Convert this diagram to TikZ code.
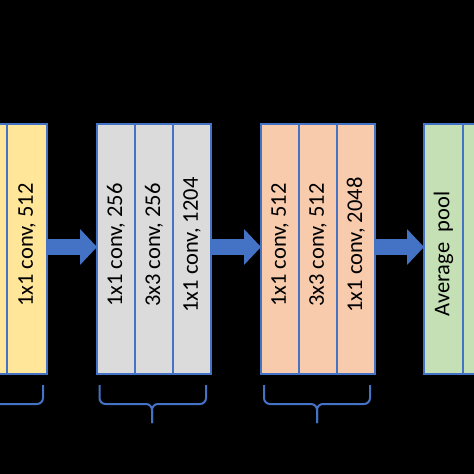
\documentclass[tikz,border=0pt]{standalone}
\usepackage{fontspec}
\setmainfont{Carlito}
\usetikzlibrary{positioning,arrows.meta,calc}

\definecolor{lineblue}{HTML}{4472C4}
\definecolor{ylw}{HTML}{FFE699}
\definecolor{gry}{HTML}{DBDBDB}
\definecolor{org}{HTML}{F8CBAD}
\definecolor{grn}{HTML}{C5E0B4}

% vertical cell text, nudged a little upwards
\newcommand{\vtext}[1]{\rotatebox{90}{\hspace*{8pt}#1}}

\tikzset{
  cell/.style={draw=lineblue, line width=2pt, minimum width=38pt, minimum height=250pt,
    inner sep=0pt, outer sep=0pt, font=\fontsize{22.5}{27}\selectfont},
  flow/.style={draw=lineblue, line width=16pt, -{Triangle[length=17pt,width=35pt]}},
  brace/.style={draw=lineblue, line width=2pt, rounded corners=6pt}
}

\begin{document}
\begin{tikzpicture}[x=1pt,y=-1pt]
			\useasboundingbox (0,0) rectangle (474,474);
			\clip (0,0) rectangle (474,474);
			\fill[black] (0,0) rectangle (474,474);
			
			% stage 2 (cut at the left edge)
			\node[cell, fill=ylw, minimum width=40pt] (y3) at (27,249) {\vtext{1x1 conv, 512}};
			\node[cell, fill=ylw, minimum width=40pt, left=0pt of y3] (y2) {};
			\node[cell, fill=ylw, minimum width=40pt, left=0pt of y2] (y1) {};
			
			% stage 3
			\node[cell, fill=gry] (g1) at (116,249) {\vtext{1x1 conv, 256}};
			\node[cell, fill=gry, right=0pt of g1] (g2) {\vtext{3x3 conv, 256}};
			\node[cell, fill=gry, right=0pt of g2] (g3) {\vtext{1x1 conv, 1204}};
			
			% stage 4
			\node[cell, fill=org] (o1) at (280,249) {\vtext{1x1 conv, 512}};
			\node[cell, fill=org, right=0pt of o1] (o2) {\vtext{3x3 conv, 512}};
			\node[cell, fill=org, right=0pt of o2] (o3) {\vtext{1x1 conv, 2048}};
			
			% head
			\node[cell, fill=grn, minimum width=39pt] (a1) at (443.5,249) {\rotatebox{90}{Average\ \ pool\hspace*{10pt}}};
			\node[cell, fill=grn, minimum width=39pt, right=0pt of a1] (a2) {};
			
			\draw[flow] ([yshift=2pt]y3.east) -- ([yshift=2pt]g1.west);
			\draw[flow] ([yshift=2pt]g3.east) -- ([yshift=2pt]o1.west);
			\draw[flow] ([yshift=2pt]o3.east) -- ([yshift=2pt]a1.west);
			
			\draw[brace] ($(y1.south west)+(3,11)$) |- ($(y2.south)+(0,30)$) -- ++(0,19);
			\draw[brace] ($(y3.south east)+(-4,11)$) |- ($(y2.south)+(0,30)$) -- ++(0,19);
			\draw[brace] ($(g1.south west)+(2.5,11)$) |- ($(g2.south)+(-2,30)$) -- ++(0,19);
			\draw[brace] ($(g3.south east)+(-5,11)$) |- ($(g2.south)+(-2,30)$) -- ++(0,19);
			\draw[brace] ($(o1.south west)+(3,11)$) |- ($(o2.south)+(-1,30)$) -- ++(0,19);
			\draw[brace] ($(o3.south east)+(-5,11)$) |- ($(o2.south)+(-1,30)$) -- ++(0,19);
\end{tikzpicture}
\end{document}
